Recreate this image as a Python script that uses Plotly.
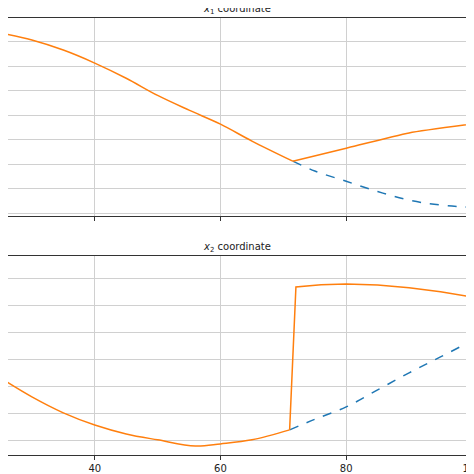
import plotly.graph_objects as go
from plotly.subplots import make_subplots

x1_pre = [25, 30, 35, 40, 45, 50, 55, 60, 65, 71.5]
y1_pre = [7.35, 7.06, 6.65, 6.12, 5.5, 4.8, 4.2, 3.63, 2.94, 2.12]
x1_ctrl = [71.5, 80, 90, 102]
y1_ctrl = [2.12, 2.65, 3.27, 3.7]
x1_ref = [71.5, 75, 80, 85, 90, 95, 102]
y1_ref = [2.12, 1.72, 1.3, 0.88, 0.53, 0.33, 0.21]

x2_pre = [25, 30, 35, 40, 45, 50, 56, 60, 65, 71]
y2_pre = [2.33, 1.63, 1.04, 0.59, 0.26, 0.04, -0.19, -0.11, 0.04, 0.41]
x2_ctrl = [71, 72, 76, 80, 85, 90, 95, 102]
y2_ctrl = [0.41, 5.7, 5.78, 5.81, 5.77, 5.67, 5.52, 5.25]
x2_ref = [71, 75, 80, 85, 90, 95, 102]
y2_ref = [0.41, 0.8, 1.26, 1.89, 2.52, 3.11, 3.95]

ORANGE = "#ff7f0e"
BLUE = "#1f77b4"

fig = make_subplots(rows=2, cols=1)
fig.add_trace(go.Scatter(x=x1_ref, y=y1_ref, mode="lines", line=dict(color=BLUE, dash="dash", width=1.5, shape="spline")), 1, 1)
fig.add_trace(go.Scatter(x=x1_pre, y=y1_pre, mode="lines", line=dict(color=ORANGE, width=1.5, shape="spline")), 1, 1)
fig.add_trace(go.Scatter(x=x1_ctrl, y=y1_ctrl, mode="lines", line=dict(color=ORANGE, width=1.5, shape="spline", smoothing=0.5)), 1, 1)
fig.add_trace(go.Scatter(x=x2_ref, y=y2_ref, mode="lines", line=dict(color=BLUE, dash="dash", width=1.5, shape="spline")), 2, 1)
fig.add_trace(go.Scatter(x=x2_pre, y=y2_pre, mode="lines", line=dict(color=ORANGE, width=1.5, shape="spline")), 2, 1)
fig.add_trace(go.Scatter(x=x2_ctrl, y=y2_ctrl, mode="lines", line=dict(color=ORANGE, width=1.5)), 2, 1)

ax = dict(showline=True, linecolor="#333", linewidth=1, mirror=True, showgrid=True,
          gridcolor="#d0d0d0", zeroline=False, range=[26.2, 101.6],
          tickvals=[40, 60, 80, 100], ticks="outside", ticklen=4, tickcolor="#333")
fig.update_layout(
    width=474, height=474, showlegend=False, plot_bgcolor="white", paper_bgcolor="white",
    margin=dict(l=0, r=0, t=0, b=0), font=dict(family="DejaVu Sans", size=10, color="#222"),
    xaxis=dict(ax, domain=[0, 1], showticklabels=False),
    xaxis2=dict(ax, domain=[0, 1]),
    yaxis=dict(domain=[0.561, 0.979], range=[-0.12, 7.96], tickvals=list(range(8)),
               showticklabels=False, showline=True, linecolor="#333", mirror=True,
               gridcolor="#d0d0d0", zeroline=False),
    yaxis2=dict(domain=[0.057, 0.477], range=[-0.52, 6.85], tickvals=list(range(7)),
                showticklabels=False, showline=True, linecolor="#333", mirror=True,
                gridcolor="#d0d0d0", zeroline=False),
    annotations=[
        dict(text="<i>x</i><sub>1</sub> coordinate", x=0.483, y=0.979, xref="paper", yref="paper",
             yanchor="bottom", showarrow=False, font=dict(size=10), yshift=0),
        dict(text="<i>x</i><sub>2</sub> coordinate", x=0.483, y=0.477, xref="paper", yref="paper",
             yanchor="bottom", showarrow=False, font=dict(size=10), yshift=0),
    ],
)
fig.write_html("out.html")
